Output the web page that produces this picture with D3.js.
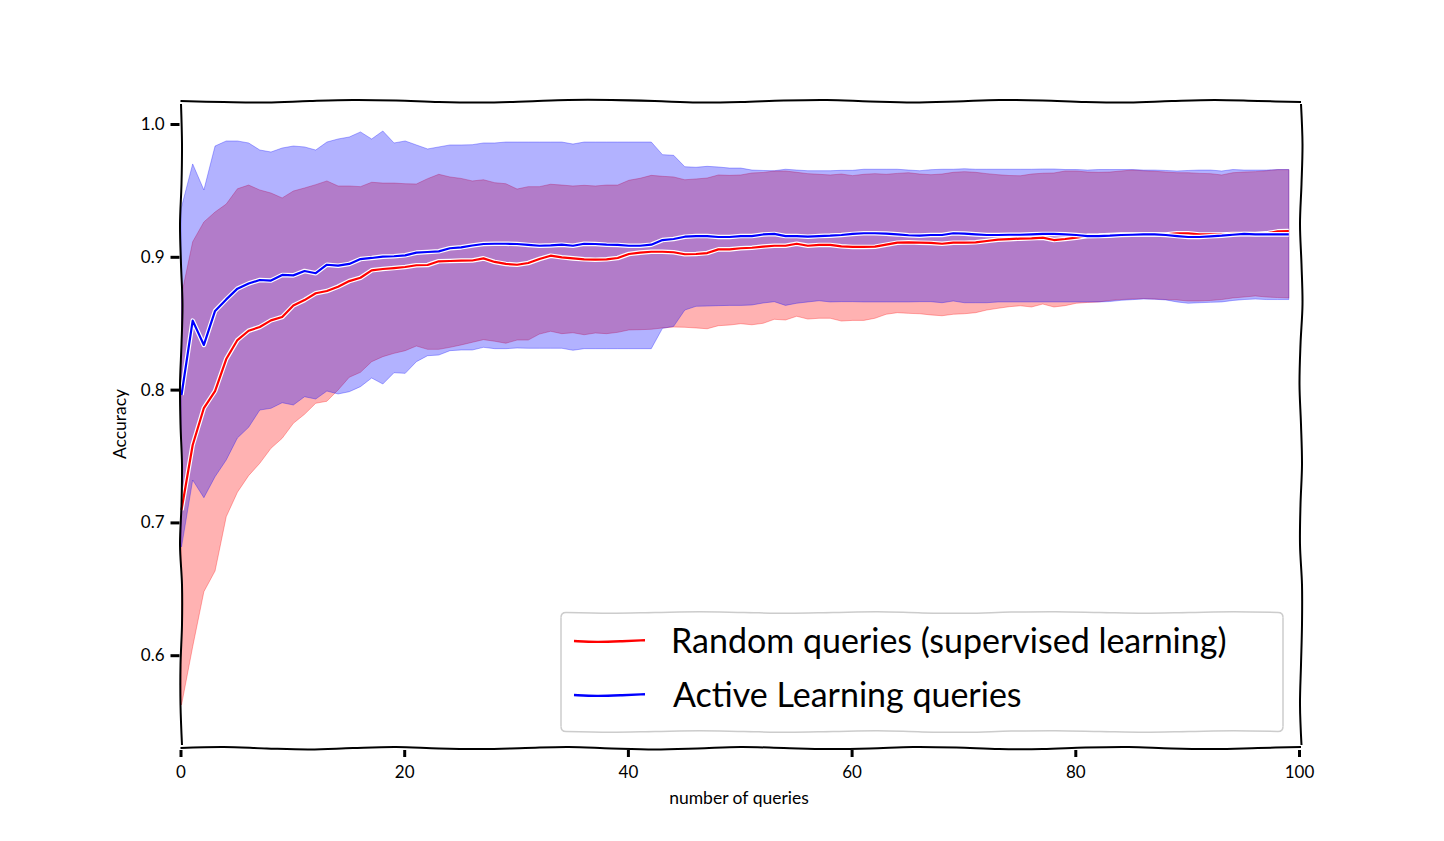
<!DOCTYPE html>
<html>
<head>
<meta charset="utf-8">
<script src="https://cdn.jsdelivr.net/npm/d3@7"></script>
<style>
  html, body { margin: 0; background: #fff; }
  svg { display: block; }
  text { font-family: Lato, "Open Sans", sans-serif; fill: #000; }
</style>
</head>
<body>
<svg id="chart" width="1444" height="841"></svg>
<script>
// values, one per query (0 to 99)
const randomMean = [.7097,.7587,.7865,.7993,.8234,.8377,.8447,.8475,.8525,.8550,.8637,.8678,.8729,.8746,.8779,.8821,.8846,.8902,.8912,.8919,.8927,.8940,.8942,.8970,.8972,.8975,.8976,.8992,.8965,.8950,.8944,.8957,.8987,.9012,.9000,.8992,.8985,.8982,.8985,.8995,.9025,.9035,.9042,.9042,.9038,.9023,.9025,.9032,.9060,.9060,.9068,.9072,.9081,.9087,.9087,.9102,.9087,.9093,.9093,.9083,.9078,.9078,.9080,.9095,.9110,.9113,.9110,.9108,.9102,.9110,.9110,.9113,.9123,.9133,.9137,.9141,.9143,.9148,.9130,.9138,.9148,.9161,.9163,.9168,.9172,.9172,.9172,.9172,.9172,.9180,.9180,.9172,.9172,.9172,.9176,.9176,.9176,.9180,.9195,.9198];
const randomUpper = [.8716,.9117,.9266,.9341,.9401,.9516,.9544,.9507,.9484,.9447,.9499,.9522,.9547,.9575,.9537,.9537,.9532,.9565,.9559,.9559,.9554,.9552,.9592,.9625,.9605,.9594,.9575,.9584,.9562,.9554,.9514,.9532,.9532,.9550,.9544,.9537,.9542,.9537,.9544,.9544,.9580,.9595,.9617,.9610,.9605,.9584,.9590,.9597,.9620,.9617,.9620,.9635,.9639,.9650,.9650,.9640,.9630,.9625,.9620,.9627,.9615,.9625,.9630,.9625,.9632,.9637,.9627,.9622,.9627,.9640,.9645,.9640,.9630,.9622,.9616,.9614,.9627,.9633,.9635,.9650,.9650,.9642,.9640,.9642,.9650,.9657,.9652,.9648,.9642,.9637,.9637,.9632,.9630,.9620,.9637,.9642,.9645,.9652,.9660,.9660];
const randomLower = [.5629,.6068,.6482,.6638,.7047,.7231,.7356,.7449,.7562,.7637,.7750,.7818,.7901,.7916,.8001,.8097,.8134,.8214,.8252,.8277,.8297,.8332,.8307,.8307,.8322,.8340,.8360,.8380,.8368,.8353,.8377,.8377,.8422,.8443,.8425,.8432,.8417,.8430,.8425,.8435,.8453,.8455,.8458,.8468,.8475,.8473,.8468,.8462,.8485,.8490,.8500,.8492,.8503,.8533,.8528,.8556,.8535,.8541,.8541,.8520,.8525,.8525,.8541,.8571,.8583,.8578,.8575,.8566,.8560,.8571,.8575,.8583,.8603,.8616,.8628,.8635,.8626,.8648,.8626,.8636,.8654,.8660,.8664,.8675,.8682,.8686,.8690,.8686,.8682,.8679,.8671,.8671,.8675,.8682,.8694,.8701,.8709,.8701,.8697,.8694];
const activeMean = [.7963,.8523,.8340,.8596,.8683,.8764,.8803,.8829,.8825,.8867,.8864,.8897,.8880,.8944,.8937,.8950,.8987,.8995,.9005,.9008,.9015,.9035,.9040,.9045,.9068,.9075,.9089,.9100,.9102,.9102,.9100,.9093,.9087,.9090,.9095,.9087,.9102,.9100,.9095,.9093,.9087,.9087,.9095,.9130,.9138,.9155,.9160,.9160,.9153,.9153,.9160,.9160,.9172,.9176,.9160,.9160,.9155,.9160,.9163,.9168,.9176,.9181,.9181,.9178,.9173,.9166,.9163,.9168,.9168,.9181,.9178,.9173,.9168,.9168,.9170,.9170,.9173,.9176,.9176,.9173,.9168,.9160,.9160,.9163,.9168,.9170,.9173,.9173,.9168,.9160,.9153,.9153,.9158,.9163,.9170,.9176,.9173,.9173,.9173,.9173];
const activeUpper = [.9379,.9703,.9507,.9838,.9876,.9876,.9861,.9808,.9793,.9823,.9838,.9831,.9808,.9868,.9891,.9906,.9944,.9891,.9951,.9861,.9876,.9846,.9816,.9831,.9846,.9846,.9848,.9861,.9861,.9868,.9868,.9868,.9868,.9868,.9868,.9853,.9868,.9868,.9868,.9868,.9868,.9868,.9868,.9773,.9768,.9682,.9678,.9685,.9680,.9672,.9672,.9657,.9654,.9652,.9663,.9657,.9652,.9652,.9652,.9655,.9655,.9663,.9663,.9663,.9663,.9657,.9652,.9660,.9663,.9663,.9667,.9663,.9663,.9663,.9663,.9663,.9663,.9665,.9665,.9661,.9661,.9657,.9661,.9661,.9661,.9661,.9657,.9657,.9654,.9650,.9654,.9657,.9657,.9650,.9661,.9657,.9657,.9657,.9661,.9661];
const activeLower = [.6819,.7323,.7190,.7348,.7474,.7640,.7720,.7850,.7863,.7905,.7888,.7950,.7933,.7993,.7971,.7988,.8026,.8091,.8046,.8131,.8126,.8214,.8259,.8264,.8297,.8302,.8302,.8322,.8312,.8312,.8317,.8315,.8315,.8315,.8315,.8300,.8312,.8312,.8312,.8312,.8312,.8312,.8312,.8465,.8480,.8603,.8631,.8633,.8636,.8638,.8638,.8641,.8656,.8666,.8638,.8654,.8664,.8673,.8664,.8666,.8666,.8664,.8664,.8664,.8664,.8664,.8666,.8666,.8658,.8671,.8658,.8658,.8658,.8664,.8664,.8664,.8664,.8664,.8664,.8664,.8664,.8664,.8664,.8667,.8676,.8681,.8686,.8684,.8679,.8664,.8654,.8658,.8661,.8664,.8675,.8682,.8686,.8682,.8682,.8682];

const xTicks = [0, 20, 40, 60, 80, 100];
const yTicks = [0.6, 0.7, 0.8, 0.9, 1.0];
const xTitle = "number of queries";
const yTitle = "Accuracy";
const legendLabels = ["Random queries (supervised learning)", "Active Learning queries"];
const colors = ["#ff0000", "#0000ff"];

// hand drawn look of the frame: small offsets in pixels along each edge
const wobbleTop = [0, 1, 1.5, 0, -1, -.5, 1, 1.5, .5, -1, -1, 0, 1.5, 1, -.5, -1, .5, 1.5, .5, -1, -.5, 1, 1.5, 0, -1, 0, 1];
const wobbleBottom = [0, -1, .5, 1.5, 0, -1, .5, 1, 0, -1, .5, 1.5, .5, -1, 0, 1, .5, -1, -.5, 1, 1, -.5, -1, .5, 1, 0, -1];
const wobbleLeft = [0, 1, .5, -1, 0, 1.5, .5, -1, -.5, 1, .5, -1, 1, 1, -.5, -.5, 1];
const wobbleRight = [0, 1.5, .5, -1, .5, 1.5, -.5, -1.5, 0, 1, -.5, -1, 1, 1, 0, -1, .5];
const wobbleBox = [0, .8, 0, -.8, 0, .8, 0, -.8, .4, .8, -.4, -.8, 0, .8, 0, -.8, 0];

const svg = d3.select("#chart");
const left = 181.5, right = 1300, top_ = 101, bottom = 748;

const x = d3.scaleLinear().domain([0, 100]).range([left, right]);
const y = d3.scaleLinear().domain([0.5305, 1.0177]).range([bottom, top_]);

// the two bands, red first so that blue lies on top of it
const band = (upper, lower) => d3.area()
  .x((d, i) => x(i))
  .y0((d, i) => y(lower[i]))
  .y1((d, i) => y(upper[i]));

svg.selectAll("path.band")
  .data([[randomUpper, randomLower], [activeUpper, activeLower]])
  .join("path")
  .attr("class", "band")
  .attr("d", d => band(d[0], d[1])(d[0]))
  .attr("fill", (d, i) => colors[i])
  .attr("fill-opacity", 0.3)
  .attr("stroke", (d, i) => colors[i])
  .attr("stroke-opacity", 0.3)
  .attr("stroke-width", 1);

// mean lines with a white halo
const meanLine = d3.line().x((d, i) => x(i)).y(d => y(d));

[randomMean, activeMean].forEach((values, i) => {
  svg.append("path")
    .attr("d", meanLine(values))
    .attr("fill", "none").attr("stroke", "#fff")
    .attr("stroke-width", 4.6).attr("stroke-linejoin", "round");
  svg.append("path")
    .attr("d", meanLine(values))
    .attr("fill", "none").attr("stroke", colors[i])
    .attr("stroke-width", 2.2).attr("stroke-linejoin", "round");
});

// wobbly edge between two points, offset across its direction
function wobblyEdge(x0, y0, x1, y1, offsets) {
  const t = d3.scaleLinear().domain([0, offsets.length - 1]).range([0, 1]);
  const horizontal = y0 === y1;
  const pts = offsets.map((o, i) => horizontal
    ? [x0 + (x1 - x0) * t(i), y0 + o]
    : [x0 + o, y0 + (y1 - y0) * t(i)]);
  return d3.line().curve(d3.curveCatmullRom)(pts);
}

const frame = svg.append("g").attr("fill", "none").attr("stroke", "#000").attr("stroke-width", 2);
frame.append("path").attr("d", wobblyEdge(left - 1, top_, right + 1, top_, wobbleTop));
frame.append("path").attr("d", wobblyEdge(left - 1, bottom, right + 1, bottom, wobbleBottom));
frame.append("path").attr("d", wobblyEdge(left - .5, top_ + 3, left - .5, bottom - 3, wobbleLeft));
frame.append("path").attr("d", wobblyEdge(right + 1, top_ + 3, right + 1, bottom - 3, wobbleRight));

// axes
const xAxis = svg.append("g")
  .attr("transform", `translate(0,${bottom + 2})`)
  .call(d3.axisBottom(x).tickValues(xTicks).tickSize(7).tickPadding(9).tickFormat(d3.format("d")).offset(-0.5));
const yAxis = svg.append("g")
  .attr("transform", `translate(${left - 2},0)`)
  .call(d3.axisLeft(y).tickValues(yTicks).tickSize(9).tickPadding(6).tickFormat(d3.format(".1f")).offset(0));

[xAxis, yAxis].forEach(axis => {
  axis.select(".domain").remove();
  axis.selectAll("line").attr("stroke", "#000").attr("stroke-width", 3);
  axis.selectAll("text").attr("font-size", 17).attr("fill", "#000")
    .style("font-family", "Lato, sans-serif");
});

svg.append("text").attr("x", 739).attr("y", 804)
  .attr("text-anchor", "middle").attr("font-size", 17.5).text(xTitle);
svg.append("text")
  .attr("transform", "translate(126,424) rotate(-90)")
  .attr("text-anchor", "middle").attr("font-size", 17.5).text(yTitle);

// legend box
const box = svg.append("g").attr("fill", "none").attr("stroke", "#cccccc").attr("stroke-width", 1.5);
const bx0 = 561, bx1 = 1283, by0 = 612.5, by1 = 731.5;
box.append("path").attr("d", wobblyEdge(bx0 + 5, by0, bx1 - 5, by0, wobbleBox));
box.append("path").attr("d", wobblyEdge(bx0 + 5, by1, bx1 - 5, by1, wobbleBox));
box.append("path").attr("d", `M${bx0},${by0 + 5}Q${bx0},${by0} ${bx0 + 5},${by0}`);
box.append("path").attr("d", `M${bx1},${by0 + 5}Q${bx1},${by0} ${bx1 - 5},${by0}`);
box.append("path").attr("d", `M${bx0},${by1 - 5}Q${bx0},${by1} ${bx0 + 5},${by1}`);
box.append("path").attr("d", `M${bx1},${by1 - 5}Q${bx1},${by1} ${bx1 - 5},${by1}`);
box.append("path").attr("d", `M${bx0},${by0 + 5}V${by1 - 5}`);
box.append("path").attr("d", `M${bx1},${by0 + 5}V${by1 - 5}`);

// legend rows
const legendRowY = [641, 695];
const legendTextX = [671, 673];
legendLabels.forEach((label, i) => {
  const sample = d3.line().curve(d3.curveBasis)([
    [574, legendRowY[i]], [597, legendRowY[i] + 1.2], [620, legendRowY[i] + .3], [645, legendRowY[i] - .8]]);
  svg.append("path").attr("d", sample).attr("fill", "none")
    .attr("stroke", colors[i]).attr("stroke-width", 2.4);
  svg.append("text").attr("x", legendTextX[i]).attr("y", legendRowY[i] + 12)
    .attr("font-size", 34).text(label);
});
</script>
</body>
</html>
